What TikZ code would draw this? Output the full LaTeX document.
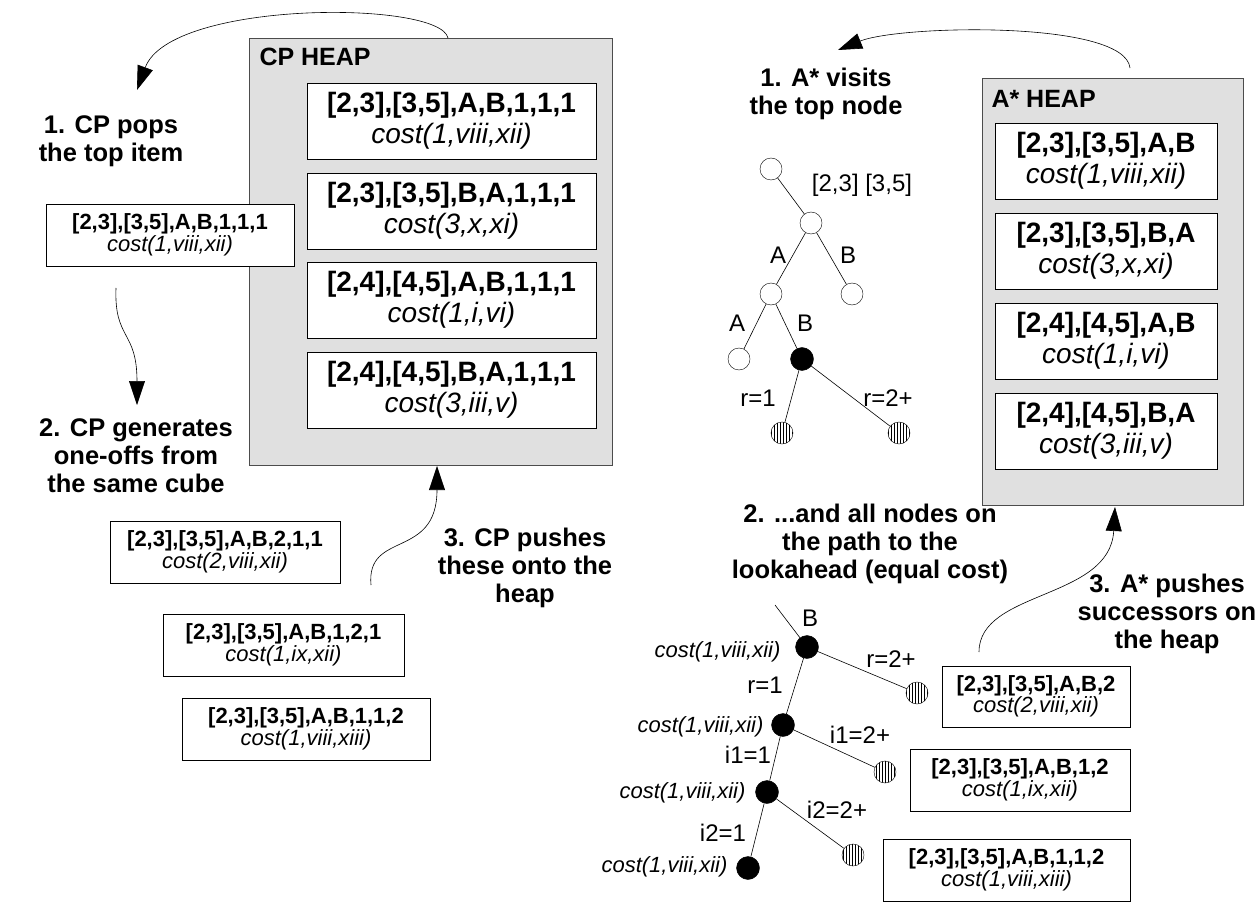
\documentclass[tikz,border=0pt]{standalone}
\usepackage{fontspec}
\setmainfont{Liberation Sans}
\usetikzlibrary{patterns,arrows.meta}
\begin{document}
\begin{tikzpicture}[x=1pt,y=-1pt,
 heap/.style={draw=black!70,fill=black!12,line width=0.8pt},
 big/.style={draw,fill=white,line width=0.8pt,align=center,font=\fontsize{28}{31}\selectfont,inner sep=0pt},
 sm/.style={draw,fill=white,line width=0.8pt,align=center,font=\fontsize{22}{20}\selectfont,inner sep=0pt},
 lbl/.style={align=center,font=\bfseries\fontsize{25.5}{28}\selectfont},
 el/.style={font=\fontsize{24}{26}\selectfont},
 cl/.style={font=\itshape\fontsize{22}{24}\selectfont,anchor=east},
 wn/.style={circle,draw,fill=white,minimum size=22pt,inner sep=0pt},
 bn/.style={circle,draw,fill=black,minimum size=23pt,inner sep=0pt},
 hn/.style={circle,draw,pattern=vertical lines,minimum size=22pt,inner sep=0pt},
 arr/.style={-{Triangle[length=24pt,width=16pt]},line width=0.6pt},
 ln/.style={line width=0.6pt}]
\useasboundingbox (0,0) rectangle (1259,904);
% CP heap
\node[heap,minimum width=363pt,minimum height=427pt,anchor=north west,inner sep=0pt] (cph) at (249,38) {};
\node[anchor=west,font=\bfseries\fontsize{25}{27}\selectfont] (cpt) at (256,57) {CP HEAP};
\newcommand{\bx}[6]{\node[#1,minimum width=#4pt,minimum height=#5pt] (#2) at (#3) {#6};}
\bx{big}{c1}{451.5,121}{289}{76}{\textbf{[2,3],[3,5],A,B,1,1,1}\\\textit{cost(1,viii,xii)}}
\bx{big}{c2}{451.5,211}{289}{76}{\textbf{[2,3],[3,5],B,A,1,1,1}\\\textit{cost(3,x,xi)}}
\bx{big}{c3}{451.5,300}{289}{76}{\textbf{[2,4],[4,5],A,B,1,1,1}\\\textit{cost(1,i,vi)}}
\bx{big}{c4}{451.5,390}{289}{76}{\textbf{[2,4],[4,5],B,A,1,1,1}\\\textit{cost(3,iii,v)}}
\bx{sm}{pop}{170,235}{248}{62}{\textbf{[2,3],[3,5],A,B,1,1,1}\\\textit{cost(1,viii,xii)}}
\node[lbl] (l1) at (111,141) {1. CP pops\\the top item};
\node[lbl] (l2) at (136,456) {2. CP generates\\one-offs from\\the same cube};
\node[lbl] (l3) at (525,568) {3. CP pushes\\these onto the\\heap};
\bx{sm}{g1}{225,552}{230}{62}{\textbf{[2,3],[3,5],A,B,2,1,1}\\\textit{cost(2,viii,xii)}}
\bx{sm}{g2}{283.5,645}{241}{62}{\textbf{[2,3],[3,5],A,B,1,2,1}\\\textit{cost(1,ix,xii)}}
\bx{sm}{g3}{306,729}{248}{62}{\textbf{[2,3],[3,5],A,B,1,1,2}\\\textit{cost(1,viii,xiii)}}
\coordinate (a1s) at (448,38);
\coordinate (a1e) at (137,90);
\draw[arr] (a1s) .. controls (440,0) and (170,0) .. (a1e);
\coordinate (a2s) at (116,288);
\coordinate (a2e) at (137,405);
\draw[arr] (a2s) .. controls (114,340) and (137,330) .. (a2e);
\coordinate (a3s) at (371,585);
\coordinate (a3e) at (437,466);
\draw[arr] (a3s) .. controls (366,530) and (437,560) .. (a3e);
% A* heap
\node[heap,minimum width=261pt,minimum height=427pt,anchor=north west,inner sep=0pt] (ah) at (982,78) {};
\node[anchor=west,font=\bfseries\fontsize{25}{27}\selectfont] (aht) at (988,99) {A* HEAP};
\bx{big}{h1}{1106,161}{222}{76}{\textbf{[2,3],[3,5],A,B}\\\textit{cost(1,viii,xii)}}
\bx{big}{h2}{1106,251}{222}{76}{\textbf{[2,3],[3,5],B,A}\\\textit{cost(3,x,xi)}}
\bx{big}{h3}{1106,341}{222}{76}{\textbf{[2,4],[4,5],A,B}\\\textit{cost(1,i,vi)}}
\bx{big}{h4}{1106,431}{222}{76}{\textbf{[2,4],[4,5],B,A}\\\textit{cost(3,iii,v)}}
\node[lbl] (r1) at (826,94) {1. A* visits\\the top node};
\node[lbl] (r2) at (870,544) {2. ...and all nodes on\\the path to the\\lookahead (equal cost)};
\node[lbl] (r3) at (1167,614) {3. A* pushes\\successors on\\the heap};
\coordinate (b1s) at (1130,68);
\coordinate (b1e) at (838,50);
\draw[arr] (b1s) .. controls (1125,20) and (900,25) .. (b1e);
\coordinate (b3s) at (979,652);
\coordinate (b3e) at (1115,507);
\draw[arr] (b3s) .. controls (979,590) and (1110,600) .. (b3e);
% upper tree
\node[wn] (t0) at (771,169) {};
\node[wn] (t1) at (811,223) {};
\node[wn] (t2) at (771,294) {};
\node[wn] (t3) at (852,294) {};
\node[wn] (t4) at (739,359) {};
\node[bn] (t5) at (802,359) {};
\node[hn] (t6) at (782,433) {};
\node[hn] (t7) at (899,433) {};
\draw[ln] (t0)--(t1) (t1)--(t2) (t1)--(t3) (t2)--(t4) (t2)--(t5) (t5)--(t6) (t5)--(t7);
\node[el] (e0) at (862,185) {[2,3] [3,5]};
\node[el] (e1) at (778,255) {A};
\node[el] (e2) at (848,255) {B};
\node[el] (e3) at (737,323) {A};
\node[el] (e4) at (805,323) {B};
\node[el] (e5) at (758,398) {r=1};
\node[el] (e6) at (888,398) {r=2+};
% lower tree
\coordinate (top) at (775,605);
\node[bn] (p0) at (807,647) {};
\node[bn] (p1) at (783,725) {};
\node[bn] (p2) at (767,792) {};
\node[bn] (p3) at (748,868) {};
\node[hn] (q0) at (917,693) {};
\node[hn] (q1) at (885,772) {};
\node[hn] (q2) at (853,855) {};
\draw[ln] (top)--(p0) (p0)--(p1) (p1)--(p2) (p2)--(p3) (p0)--(q0) (p1)--(q1) (p2)--(q2);
\node[el] (fB) at (810,618) {B};
\node[cl] (k0) at (784,652) {cost(1,viii,xii)};
\node[cl] (k1) at (767,727) {cost(1,viii,xii)};
\node[cl] (k2) at (749,793) {cost(1,viii,xii)};
\node[cl] (k3) at (731,867) {cost(1,viii,xii)};
\node[el] (f1) at (891,659) {r=2+};
\node[el] (f2) at (765,685) {r=1};
\node[el] (f3) at (860,735) {i1=2+};
\node[el] (f4) at (748,755) {i1=1};
\node[el] (f5) at (837,810) {i2=2+};
\node[el] (f6) at (723,833) {i2=1};
\bx{sm}{s1}{1036,696.5}{188}{61}{\textbf{[2,3],[3,5],A,B,2}\\\textit{cost(2,viii,xii)}}
\bx{sm}{s2}{1020,780}{220}{62}{\textbf{[2,3],[3,5],A,B,1,2}\\\textit{cost(1,ix,xii)}}
\bx{sm}{s3}{1006.5,870}{247}{62}{\textbf{[2,3],[3,5],A,B,1,1,2}\\\textit{cost(1,viii,xiii)}}
\end{tikzpicture}
\end{document}
